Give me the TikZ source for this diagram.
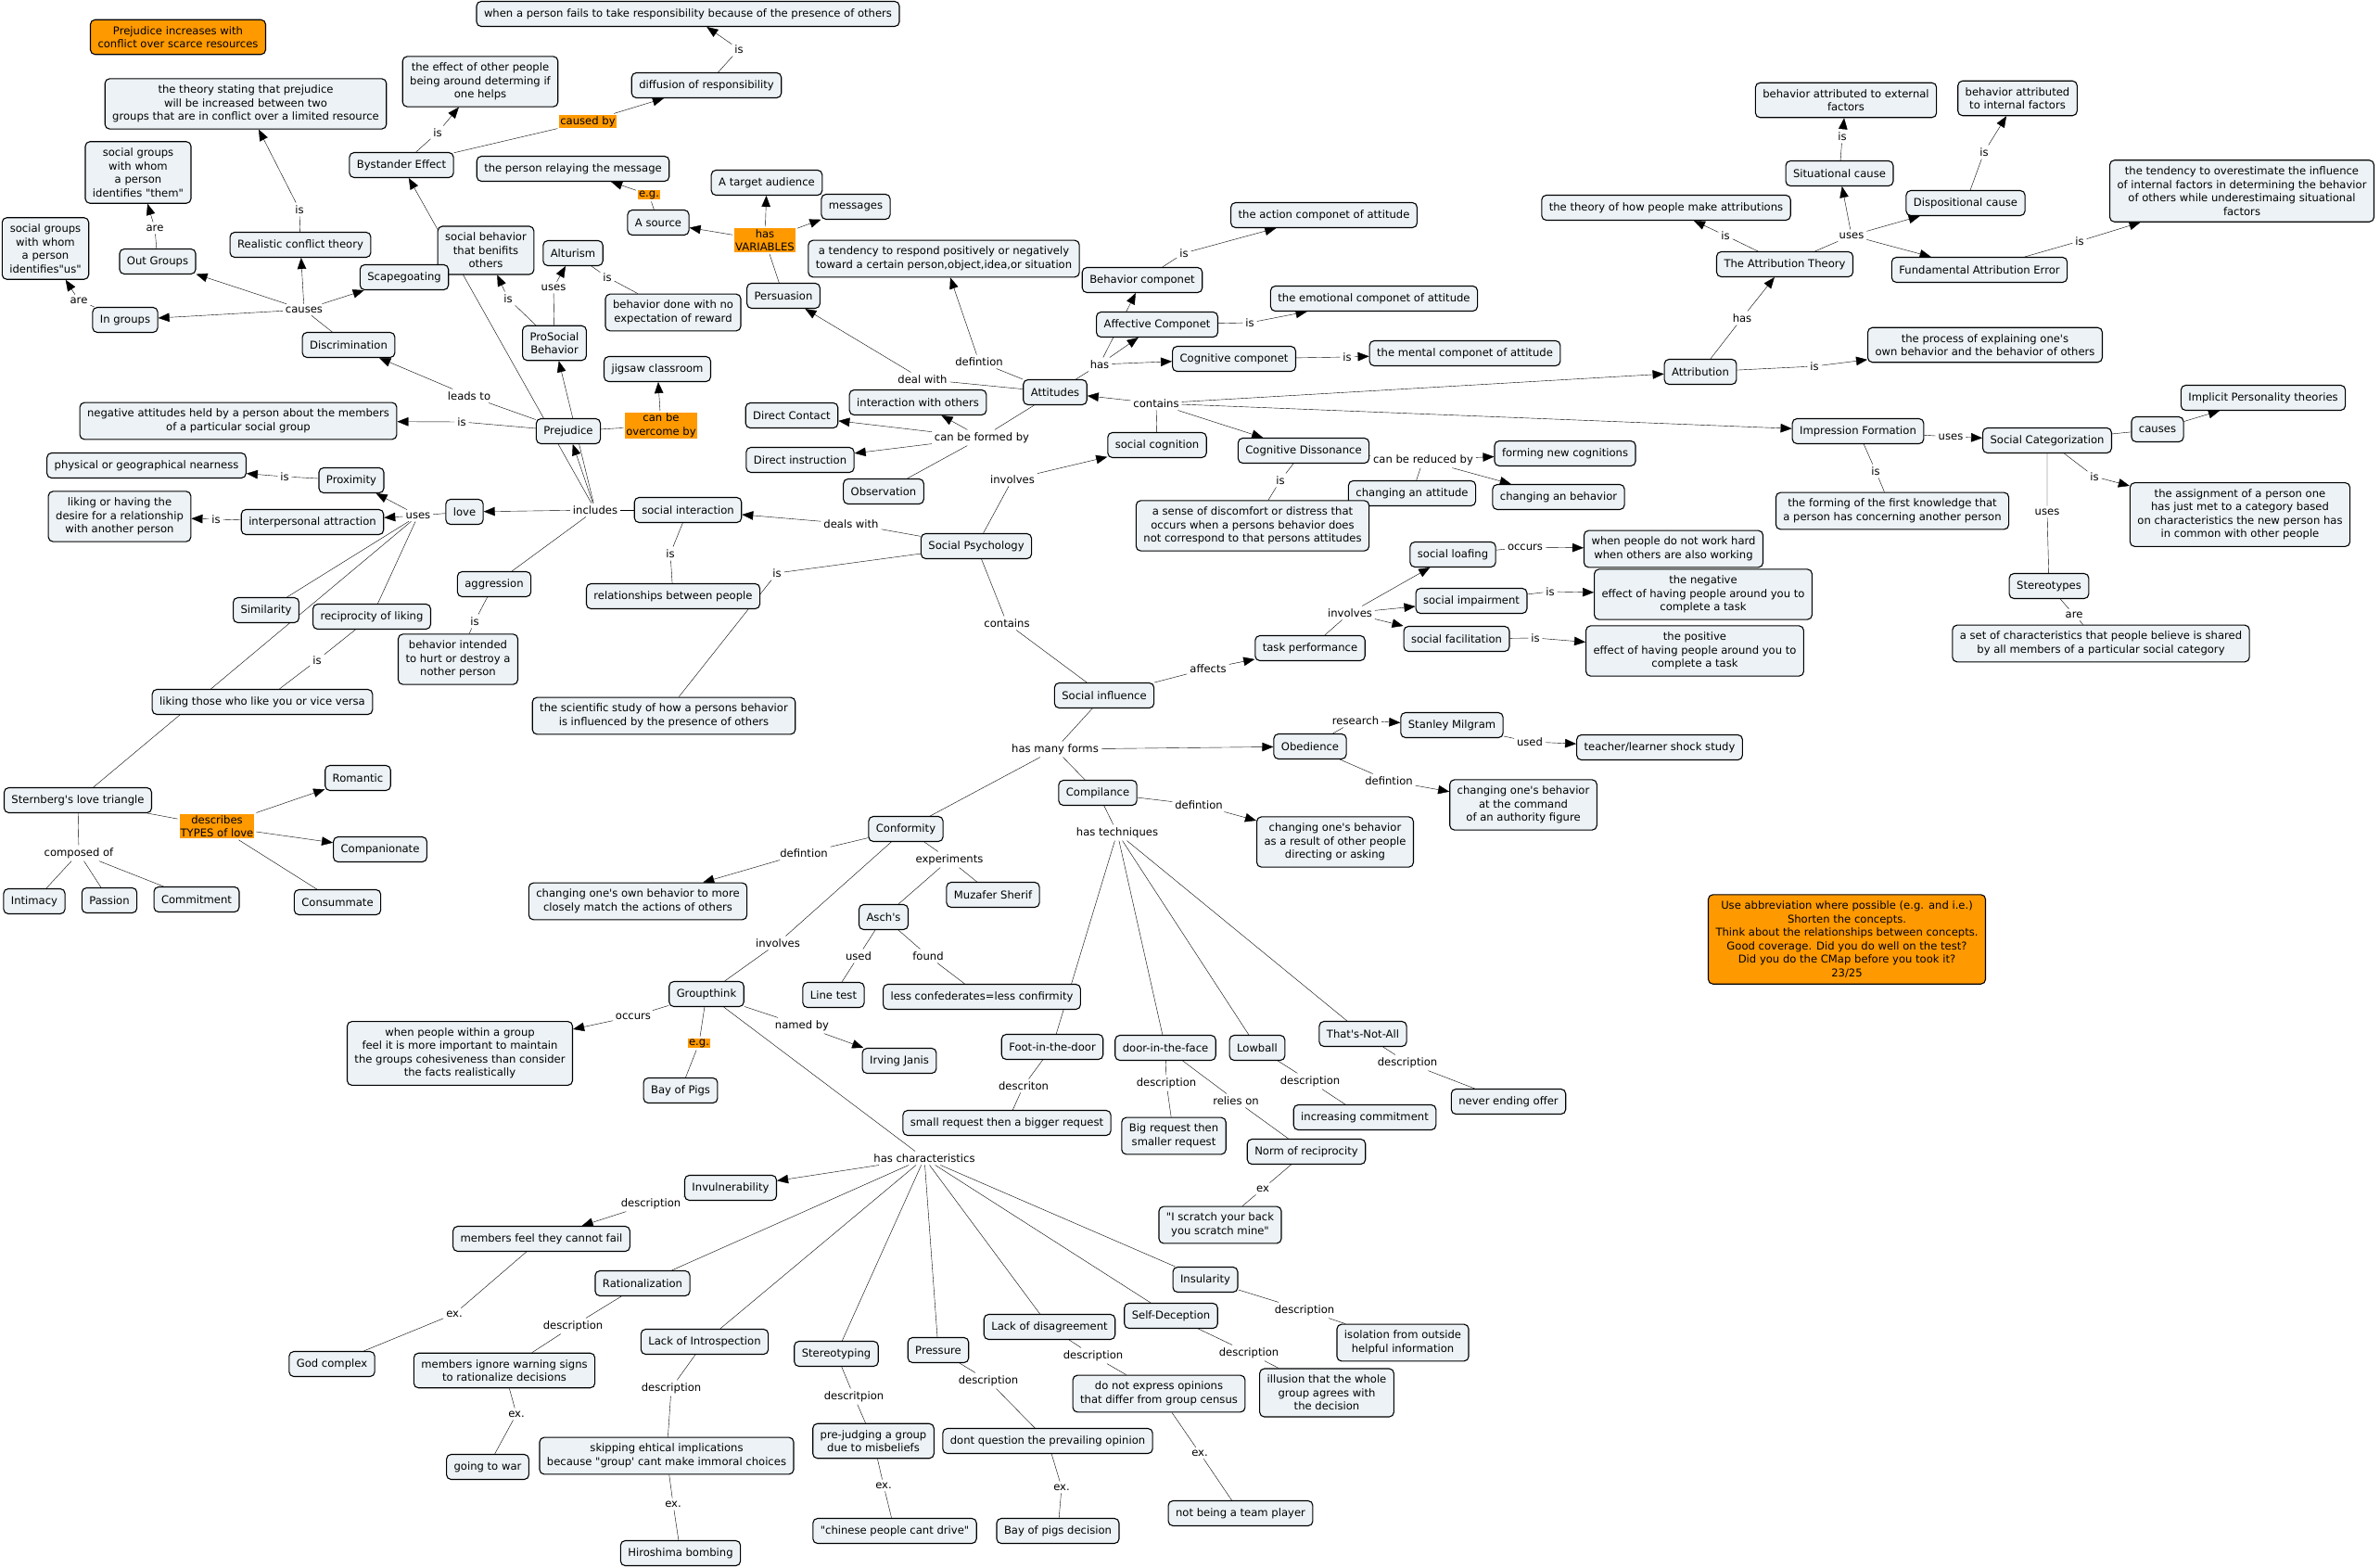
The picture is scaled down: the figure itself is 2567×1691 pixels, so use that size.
\documentclass[tikz,border=0pt]{standalone}
\usepackage{fontspec}
\setmainfont{DejaVu Sans}[Ligatures=TeXOff]
\usetikzlibrary{arrows.meta}

\definecolor{conceptfill}{RGB}{236,242,245}
\definecolor{notefill}{RGB}{255,153,0}
\newcommand{\mapfont}{\fontsize{11.6}{14.5}\selectfont}

\pgfdeclarelayer{background}
\pgfsetlayers{background,main}

\tikzset{
  concept/.style={draw, rounded corners=5pt, fill=conceptfill, line width=1.1pt,
    align=center, inner xsep=8pt, inner ysep=7pt, minimum height=27pt, font=\mapfont},
  note/.style={concept, fill=notefill},
  phrase/.style={fill=white, inner sep=1pt, outer sep=2pt, align=center, font=\mapfont},
  hiphrase/.style={fill=notefill, inner sep=1pt, outer sep=2pt, align=center, font=\mapfont},
  arr/.style={-{Triangle[length=12pt,width=9.5pt]}},
}

\begin{document}
\begin{tikzpicture}[x=1pt, y=-1pt, line width=1.1pt]
\useasboundingbox (0,0) rectangle (2567,1691);

% notes
\node[note] (note1) at (192,40) {Prejudice increases with\\conflict over scarce resources};
\node[note] (note2) at (1992,1013) {Use abbreviation where possible (e.g. and i.e.)\\Shorten the concepts.\\Think about the relationships between concepts.\\Good coverage. Did you do well on the test?\\Did you do the CMap before you took it?\\23/25};

% social interaction side
\node[concept] (whenfail) at (742,15) {when a person fails to take responsibility because of the presence of others};
\node[concept] (effect) at (518,88) {the effect of other people\\being around determing if\\one helps};
\node[concept] (rctdef) at (265,112) {the theory stating that prejudice\\will be increased between two\\groups that are in conflict over a limited resource};
\node[concept] (them) at (149,186) {social groups\\with whom\\a person\\identifies "them"};
\node[concept] (us) at (49,268) {social groups\\with whom\\a person\\identifies"us"};
\node[concept] (outg) at (170,282) {Out Groups};
\node[concept] (rct) at (324,264) {Realistic conflict theory};
\node[concept] (bystander) at (433,178) {Bystander Effect};
\node[concept] (relay) at (618,182) {the person relaying the message};
\node[concept] (sbehav) at (524,270) {social behavior\\that benifits\\others};
\node[concept] (scape) at (436,299) {Scapegoating};
\node[concept] (altru) at (618,273) {Alturism};
\node[concept] (prosoc) at (598,370) {ProSocial\\Behavior};
\node[concept] (ing) at (135,345) {In groups};
\node[concept] (discr) at (376,372) {Discrimination};
\node[concept] (prej) at (613,465) {Prejudice};
\node[concept] (negatt) at (257,454) {negative attitudes held by a person about the members\\of a particular social group};
\node[concept] (nearness) at (158,502) {physical or geographical nearness};
\node[concept] (prox) at (379,518) {Proximity};
\node[concept] (love) at (501,552) {love};
\node[concept] (likehave) at (129,557) {liking or having the\\desire for a relationship\\with another person};
\node[concept] (interp) at (337,563) {interpersonal attraction};
\node[concept] (diffus) at (762,92) {diffusion of responsibility};
\node[concept] (target) at (827,197) {A target audience};
\node[concept] (messages) at (923,223) {messages};
\node[concept] (source) at (710,240) {A source};
\node[concept] (tendency) at (1018,279) {a tendency to respond positively or negatively\\toward a certain person,object,idea,or situation};
\node[concept] (persu) at (845,319) {Persuasion};
\node[concept] (noreward) at (726,337) {behavior done with no\\expectation of reward};
\node[concept] (jigsaw) at (709,398) {jigsaw classroom};
\node[concept] (socint) at (742,550) {social interaction};
\node[concept] (relpeople) at (726,643) {relationships between people};
\node[concept] (simil) at (287,658) {Similarity};
\node[concept] (recip) at (401,665) {reciprocity of liking};
\node[concept] (aggr) at (533,630) {aggression};
\node[concept] (hurt) at (494,711) {behavior intended\\to hurt or destroy a\\nother person};
\node[concept] (likeback) at (283,757) {liking those who like you or vice versa};
\node[concept] (stern) at (84,863) {Sternberg's love triangle};
\node[concept] (romantic) at (386,839) {Romantic};
\node[concept] (compan) at (410,916) {Companionate};
\node[concept] (intimacy) at (37,972) {Intimacy};
\node[concept] (passion) at (118,971) {Passion};
\node[concept] (commit) at (212,970) {Commitment};
\node[concept] (consum) at (364,973) {Consummate};

% attitudes and cognition
\node[concept] (behcomp) at (1232,302) {Behavior componet};
\node[concept] (affcomp) at (1248,350) {Affective Componet};
\node[concept] (cogcomp) at (1331,387) {Cognitive componet};
\node[concept] (attit) at (1138,423) {Attitudes};
\node[concept] (interact) at (990,434) {interaction with others};
\node[concept] (dcontact) at (854,448) {Direct Contact};
\node[concept] (dinstr) at (863,496) {Direct instruction};
\node[concept] (observ) at (953,530) {Observation};
\node[concept] (soccog) at (1248,480) {social cognition};
\node[concept] (action) at (1428,232) {the action componet of attitude};
\node[concept] (emotion) at (1482,322) {the emotional componet of attitude};
\node[concept] (mental) at (1580,381) {the mental componet of attitude};
\node[concept] (attrib) at (1834,401) {Attribution};
\node[concept] (atheory) at (1925,285) {The Attribution Theory};
\node[concept] (howtheory) at (1797,224) {the theory of how people make attributions};
\node[concept] (cogdis) at (1406,486) {Cognitive Dissonance};
\node[concept] (newcog) at (1688,489) {forming new cognitions};
\node[concept] (chatt) at (1523,532) {changing an attitude};
\node[concept] (chbeh) at (1681,536) {changing an behavior};
\node[concept] (discomf) at (1351,567) {a sense of discomfort or distress that\\occurs when a persons behavior does\\not correspond to that persons attitudes};
\node[concept] (external) at (1991,108) {behavior attributed to external\\factors};
\node[concept] (situ) at (1984,187) {Situational cause};
\node[concept] (internal) at (2176,106) {behavior attributed\\to internal factors};
\node[concept] (dispo) at (2120,219) {Dispositional cause};
\node[concept] (fae) at (2135,291) {Fundamental Attribution Error};
\node[concept] (overest) at (2418,206) {the tendency to overestimate the influence\\of internal factors in determining the behavior\\of others while underestimaing situational\\factors};
\node[concept] (explain) at (2141,372) {the process of explaining one's\\own behavior and the behavior of others};
\node[concept] (implicit) at (2441,429) {Implicit Personality theories};
\node[concept] (impform) at (2004,465) {Impression Formation};
\node[concept] (soccat) at (2208,475) {Social Categorization};
\node[concept] (causesbox) at (2327,463) {causes};
\node[concept] (assign) at (2416,555) {the assignment of a person one\\has just met to a category based\\on characteristics the new person has\\in common with other people};
\node[concept] (firstknow) at (2041,551) {the forming of the first knowledge that\\a person has concerning another person};
\node[concept] (stereo) at (2210,632) {Stereotypes};
\node[concept] (setchar) at (2266,694) {a set of characteristics that people believe is shared\\by all members of a particular social category};

% social influence
\node[concept] (socpsy) at (1053,589) {Social Psychology};
\node[concept] (scistudy) at (716,772) {the scientific study of how a persons behavior\\is influenced by the presence of others};
\node[concept] (socinf) at (1191,750) {Social influence};
\node[concept] (loaf) at (1567,598) {social loafing};
\node[concept] (nothard) at (1805,592) {when people do not work hard\\when others are also working};
\node[concept] (impair) at (1587,648) {social impairment};
\node[concept] (negeff) at (1837,641) {the negative\\effect of having people around you to\\complete a task};
\node[concept] (taskp) at (1413,699) {task performance};
\node[concept] (facil) at (1571,689) {social facilitation};
\node[concept] (poseff) at (1828,702) {the positive\\effect of having people around you to\\complete a task};
\node[concept] (milgram) at (1566,782) {Stanley Milgram};
\node[concept] (obed) at (1413,805) {Obedience};
\node[concept] (shock) at (1790,806) {teacher/learner shock study};
\node[concept] (command) at (1643,868) {changing one's behavior\\at the command\\of an authority figure};
\node[concept] (asking) at (1440,908) {changing one's behavior\\as a result of other people\\directing or asking};
\node[concept] (compl) at (1184,855) {Compilance};
\node[concept] (conf) at (977,894) {Conformity};
\node[concept] (closely) at (688,972) {changing one's own behavior to more\\closely match the actions of others};
\node[concept] (sherif) at (1071,965) {Muzafer Sherif};
\node[concept] (asch) at (953,989) {Asch's};
\node[concept] (gthink) at (762,1072) {Groupthink};
\node[concept] (linetest) at (899,1073) {Line test};
\node[concept] (lessconf) at (1059,1075) {less confederates=less confirmity};
\node[concept] (foot) at (1135,1129) {Foot-in-the-door};
\node[concept] (dface) at (1257,1130) {door-in-the-face};
\node[concept] (lowball) at (1356,1130) {Lowball};
\node[concept] (notall) at (1470,1115) {That's-Not-All};
\node[concept] (cohesive) at (496,1136) {when people within a group\\feel it is more important to maintain\\the groups cohesiveness than consider\\the facts realistically};
\node[concept] (bayofpigs) at (734,1176) {Bay of Pigs};
\node[concept] (janis) at (970,1144) {Irving Janis};
\node[concept] (smallreq) at (1086,1211) {small request then a bigger request};
\node[concept] (bigreq) at (1266,1225) {Big request then\\smaller request};
\node[concept] (increasing) at (1472,1205) {increasing commitment};
\node[concept] (neverend) at (1627,1188) {never ending offer};
\node[concept] (norm) at (1409,1242) {Norm of reciprocity};
\node[concept] (scratch) at (1316,1321) {"I scratch your back\\you scratch mine"};
\node[concept] (invul) at (788,1281) {Invulnerability};
\node[concept] (cantfail) at (584,1336) {members feel they cannot fail};
\node[concept] (godcx) at (358,1471) {God complex};
\node[concept] (ration) at (693,1384) {Rationalization};
\node[concept] (ignore) at (544,1478) {members ignore warning signs\\to rationalize decisions};
\node[concept] (war) at (526,1582) {going to war};
\node[concept] (introsp) at (760,1447) {Lack of Introspection};
\node[concept] (skipping) at (719,1570) {skipping ehtical implications\\because "group' cant make immoral choices};
\node[concept] (hiroshima) at (734,1675) {Hiroshima bombing};
\node[concept] (stereotyp) at (902,1460) {Stereotyping};
\node[concept] (prejudging) at (942,1554) {pre-judging a group\\due to misbeliefs};
\node[concept] (chinese) at (965,1651) {"chinese people cant drive"};
\node[concept] (pressure) at (1012,1456) {Pressure};
\node[concept] (dontq) at (1130,1554) {dont question the prevailing opinion};
\node[concept] (baydec) at (1141,1651) {Bay of pigs decision};
\node[concept] (lackdis) at (1132,1431) {Lack of disagreement};
\node[concept] (notexpr) at (1250,1503) {do not express opinions\\that differ from group census};
\node[concept] (teamplayer) at (1338,1632) {not being a team player};
\node[concept] (selfdec) at (1263,1419) {Self-Deception};
\node[concept] (illusion) at (1431,1502) {illusion that the whole\\group agrees with\\the decision};
\node[concept] (insul) at (1300,1380) {Insularity};
\node[concept] (isolation) at (1513,1448) {isolation from outside\\helpful information};

% linking phrases
\node[phrase] (kDiffIs) at (797,53) {is};
\node[phrase] (kByIs) at (472,143) {is};
\node[hiphrase] (kCausedBy) at (634,131) {caused by};
\node[phrase] (kRctIs) at (323,226) {is};
\node[phrase] (kOutAre) at (167,246) {are};
\node[phrase] (kInAre) at (85,324) {are};
\node[phrase] (kCauses) at (328,334) {causes};
\node[phrase] (kProUses) at (597,310) {uses};
\node[phrase] (kProIs) at (548,322) {is};
\node[phrase] (kLeads) at (506,427) {leads to};
\node[phrase] (kPrejIs) at (498,455) {is};
\node[phrase] (kProxIs) at (307,514) {is};
\node[phrase] (kInterpIs) at (233,560) {is};
\node[phrase] (kLoveUses) at (451,556) {uses};
\node[phrase] (kIncludes) at (642,550) {includes};
\node[hiphrase] (kEgA) at (700,210) {e.g.};
\node[hiphrase] (kVars) at (825,259) {has\\VARIABLES};
\node[phrase] (kAltIs) at (655,299) {is};
\node[hiphrase] (kOvercome) at (713,459) {can be\\overcome by};
\node[phrase] (kDefAtt) at (1056,390) {defintion};
\node[phrase] (kAttHas) at (1186,393) {has};
\node[phrase] (kDealWith) at (995,409) {deal with};
\node[phrase] (kContains) at (1247,435) {contains};
\node[phrase] (kFormed) at (1059,472) {can be formed by};
\node[phrase] (kInvolves) at (1092,517) {involves};
\node[phrase] (kDeals) at (918,565) {deals with};
\node[phrase] (kBehIs) at (1277,273) {is};
\node[phrase] (kAffIs) at (1348,348) {is};
\node[phrase] (kCogIs) at (1453,385) {is};
\node[phrase] (kAttrHas) at (1879,343) {has};
\node[phrase] (kTheoryIs) at (1861,254) {is};
\node[phrase] (kReduced) at (1535,496) {can be reduced by};
\node[phrase] (kDisIs) at (1381,518) {is};
\node[phrase] (kSituIs) at (1987,147) {is};
\node[phrase] (kDispoIs) at (2140,164) {is};
\node[phrase] (kUses) at (1997,254) {uses};
\node[phrase] (kFaeIs) at (2243,260) {is};
\node[phrase] (kAttrIs) at (1957,395) {is};
\node[phrase] (kImpUses) at (2104,471) {uses};
\node[phrase] (kCatIs) at (2259,514) {is};
\node[phrase] (kImpIs) at (2023,508) {is};
\node[phrase] (kCatUses) at (2208,552) {uses};
\node[phrase] (kStereoAre) at (2237,663) {are};
\node[phrase] (kOccurs) at (1645,590) {occurs};
\node[phrase] (kImpairIs) at (1672,638) {is};
\node[phrase] (kTaskInv) at (1456,661) {involves};
\node[phrase] (kAffects) at (1303,721) {affects};
\node[phrase] (kFacilIs) at (1656,688) {is};
\node[phrase] (kResearch) at (1462,777) {research};
\node[phrase] (kUsed) at (1650,800) {used};
\node[phrase] (kObedDef) at (1498,842) {defintion};
\node[phrase] (kComplDef) at (1293,868) {defintion};
\node[phrase] (kSpIs) at (838,618) {is};
\node[phrase] (kSiIs) at (723,597) {is};
\node[phrase] (kSpContains) at (1086,672) {contains};
\node[phrase] (kForms) at (1138,808) {has many forms};
\node[phrase] (kConfDef) at (867,920) {defintion};
\node[phrase] (kExper) at (1024,927) {experiments};
\node[phrase] (kTech) at (1205,898) {has techniques};
\node[phrase] (kConfInv) at (839,1017) {involves};
\node[phrase] (kAschUsed) at (926,1031) {used};
\node[phrase] (kFound) at (1001,1031) {found};
\node[phrase] (kGtOccurs) at (683,1096) {occurs};
\node[phrase] (kNamed) at (865,1106) {named by};
\node[hiphrase] (kEgB) at (754,1125) {e.g.};
\node[phrase] (kAggrIs) at (512,670) {is};
\node[phrase] (kRecipIs) at (342,712) {is};
\node[hiphrase] (kDescribes) at (234,891) {describes\\TYPES of love};
\node[phrase] (kComposed) at (85,920) {composed of};
\node[phrase] (kFootDesc) at (1104,1171) {descriton};
\node[phrase] (kFaceDesc) at (1258,1168) {description};
\node[phrase] (kRelies) at (1333,1187) {relies on};
\node[phrase] (kLowDesc) at (1413,1166) {description};
\node[phrase] (kNotallDesc) at (1518,1146) {description};
\node[phrase] (kNormEx) at (1362,1282) {ex};
\node[phrase] (kCharac) at (997,1249) {has characteristics};
\node[phrase] (kInvDesc) at (702,1298) {description};
\node[phrase] (kCantEx) at (490,1417) {ex.};
\node[phrase] (kRatDesc) at (618,1430) {description};
\node[phrase] (kWarEx) at (557,1525) {ex.};
\node[phrase] (kIntroDesc) at (724,1497) {description};
\node[phrase] (kHiroEx) at (726,1622) {ex.};
\node[phrase] (kStereoDesc) at (921,1506) {descritpion};
\node[phrase] (kChinEx) at (953,1602) {ex.};
\node[phrase] (kPressDesc) at (1066,1489) {description};
\node[phrase] (kBayEx) at (1145,1604) {ex.};
\node[phrase] (kDisDesc) at (1179,1462) {description};
\node[phrase] (kTeamEx) at (1294,1567) {ex.};
\node[phrase] (kSelfDesc) at (1347,1459) {description};
\node[phrase] (kInsDesc) at (1407,1413) {description};

\begin{pgfonlayer}{background}
% social psychology
\draw (socpsy) -- (kSpIs) (kSpIs) -- (scistudy);
\draw[arr] (socpsy) -- (kDeals) (kDeals) -- (socint);
\draw[arr] (socpsy) -- (kInvolves) (kInvolves) -- (soccog);
\draw (socpsy) -- (kSpContains) (kSpContains) -- (socinf);
\draw (socint) -- (kSiIs) (kSiIs) -- (relpeople);
\draw (socint) -- (kIncludes);
\foreach \t in {love,prej,prosoc,bystander} \draw[arr] (kIncludes) -- (\t);
\draw (kIncludes) -- (aggr);
% prejudice
\draw[arr] (prej) -- (kPrejIs) (kPrejIs) -- (negatt);
\draw[arr] (prej) -- (kLeads) (kLeads) -- (discr);
\draw[arr] (prej) -- (kOvercome) (kOvercome) -- (jigsaw);
\draw (discr) -- (kCauses);
\foreach \t in {ing,outg,rct,scape} \draw[arr] (kCauses) -- (\t);
\draw[arr] (ing) -- (kInAre) (kInAre) -- (us);
\draw[arr] (outg) -- (kOutAre) (kOutAre) -- (them);
\draw[arr] (rct) -- (kRctIs) (kRctIs) -- (rctdef);
\draw[arr] (bystander) -- (kByIs) (kByIs) -- (effect);
\draw[arr] (bystander) -- (kCausedBy) (kCausedBy) -- (diffus);
\draw[arr] (diffus) -- (kDiffIs) (kDiffIs) -- (whenfail);
\draw[arr] (prosoc) -- (kProIs) (kProIs) -- (sbehav);
\draw[arr] (prosoc) -- (kProUses) (kProUses) -- (altru);
\draw (altru) -- (kAltIs) (kAltIs) -- (noreward);
% love
\draw (love) -- (kLoveUses);
\foreach \t in {prox,interp} \draw[arr] (kLoveUses) -- (\t);
\foreach \t in {simil,recip,stern} \draw (kLoveUses) -- (\t);
\draw[arr] (prox) -- (kProxIs) (kProxIs) -- (nearness);
\draw[arr] (interp) -- (kInterpIs) (kInterpIs) -- (likehave);
\draw (recip) -- (kRecipIs) (kRecipIs) -- (likeback);
\draw (aggr) -- (kAggrIs) (kAggrIs) -- (hurt);
\draw (stern) -- (kDescribes);
\foreach \t in {romantic,compan} \draw[arr] (kDescribes) -- (\t);
\draw (kDescribes) -- (consum);
\draw (stern) -- (kComposed);
\foreach \t in {intimacy,passion,commit} \draw (kComposed) -- (\t);
% persuasion and attitudes
\draw (persu) -- (kVars);
\foreach \t in {source,target,messages} \draw[arr] (kVars) -- (\t);
\draw[arr] (source) -- (kEgA) (kEgA) -- (relay);
\draw[arr] (attit) -- (kDealWith) (kDealWith) -- (persu);
\draw[arr] (attit) -- (kDefAtt) (kDefAtt) -- (tendency);
\draw (attit) -- (kAttHas);
\foreach \t in {behcomp,affcomp,cogcomp} \draw[arr] (kAttHas) -- (\t);
\draw[arr] (behcomp) -- (kBehIs) (kBehIs) -- (action);
\draw[arr] (affcomp) -- (kAffIs) (kAffIs) -- (emotion);
\draw[arr] (cogcomp) -- (kCogIs) (kCogIs) -- (mental);
\draw (attit) -- (kFormed);
\foreach \t in {interact,dcontact,dinstr} \draw[arr] (kFormed) -- (\t);
\draw (kFormed) -- (observ);
% social cognition
\draw (soccog) -- (kContains);
\foreach \t in {attit,attrib,impform,cogdis} \draw[arr] (kContains) -- (\t);
\draw (cogdis) -- (kDisIs) (kDisIs) -- (discomf);
\draw (cogdis) -- (kReduced);
\foreach \t in {newcog,chbeh} \draw[arr] (kReduced) -- (\t);
\draw (kReduced) -- (chatt);
\draw[arr] (attrib) -- (kAttrIs) (kAttrIs) -- (explain);
\draw[arr] (attrib) -- (kAttrHas) (kAttrHas) -- (atheory);
\draw[arr] (atheory) -- (kTheoryIs) (kTheoryIs) -- (howtheory);
\draw (atheory) -- (kUses);
\foreach \t in {situ,dispo,fae} \draw[arr] (kUses) -- (\t);
\draw[arr] (situ) -- (kSituIs) (kSituIs) -- (external);
\draw[arr] (dispo) -- (kDispoIs) (kDispoIs) -- (internal);
\draw[arr] (fae) -- (kFaeIs) (kFaeIs) -- (overest);
\draw[arr] (impform) -- (kImpUses) (kImpUses) -- (soccat);
\draw (impform) -- (kImpIs) (kImpIs) -- (firstknow);
\draw[arr] (soccat) -- (causesbox) (causesbox) -- (implicit);
\draw[arr] (soccat) -- (kCatIs) (kCatIs) -- (assign);
\draw (soccat) -- (kCatUses) (kCatUses) -- (stereo);
\draw (stereo) -- (kStereoAre) (kStereoAre) -- (setchar);
% social influence
\draw[arr] (socinf) -- (kAffects) (kAffects) -- (taskp);
\draw (taskp) -- (kTaskInv);
\foreach \t in {loaf,impair,facil} \draw[arr] (kTaskInv) -- (\t);
\draw[arr] (loaf) -- (kOccurs) (kOccurs) -- (nothard);
\draw[arr] (impair) -- (kImpairIs) (kImpairIs) -- (negeff);
\draw[arr] (facil) -- (kFacilIs) (kFacilIs) -- (poseff);
\draw[arr] (socinf) -- (kForms) (kForms) -- (obed);
\foreach \t in {compl,conf} \draw (kForms) -- (\t);
\draw[arr] (obed) -- (kResearch) (kResearch) -- (milgram);
\draw[arr] (milgram) -- (kUsed) (kUsed) -- (shock);
\draw[arr] (obed) -- (kObedDef) (kObedDef) -- (command);
\draw[arr] (compl) -- (kComplDef) (kComplDef) -- (asking);
\draw (compl) -- (kTech);
\foreach \t in {foot,dface,lowball,notall} \draw (kTech) -- (\t);
\draw (foot) -- (kFootDesc) (kFootDesc) -- (smallreq);
\draw (dface) -- (kFaceDesc) (kFaceDesc) -- (bigreq);
\draw (dface) -- (kRelies) (kRelies) -- (norm);
\draw (lowball) -- (kLowDesc) (kLowDesc) -- (increasing);
\draw (notall) -- (kNotallDesc) (kNotallDesc) -- (neverend);
\draw (norm) -- (kNormEx) (kNormEx) -- (scratch);
% conformity and groupthink
\draw[arr] (conf) -- (kConfDef) (kConfDef) -- (closely);
\draw (conf) -- (kExper);
\foreach \t in {asch,sherif} \draw (kExper) -- (\t);
\draw (asch) -- (kAschUsed) (kAschUsed) -- (linetest);
\draw (asch) -- (kFound) (kFound) -- (lessconf);
\draw (conf) -- (kConfInv) (kConfInv) -- (gthink);
\draw[arr] (gthink) -- (kGtOccurs) (kGtOccurs) -- (cohesive);
\draw (gthink) -- (kEgB) (kEgB) -- (bayofpigs);
\draw[arr] (gthink) -- (kNamed) (kNamed) -- (janis);
\draw (gthink) -- (kCharac);
\draw[arr] (kCharac) -- (invul);
\foreach \t in {ration,introsp,stereotyp,pressure,lackdis,selfdec,insul} \draw (kCharac) -- (\t);
\draw[arr] (invul) -- (kInvDesc) (kInvDesc) -- (cantfail);
\draw (cantfail) -- (kCantEx) (kCantEx) -- (godcx);
\draw (ration) -- (kRatDesc) (kRatDesc) -- (ignore);
\draw (ignore) -- (kWarEx) (kWarEx) -- (war);
\draw (introsp) -- (kIntroDesc) (kIntroDesc) -- (skipping);
\draw (skipping) -- (kHiroEx) (kHiroEx) -- (hiroshima);
\draw (stereotyp) -- (kStereoDesc) (kStereoDesc) -- (prejudging);
\draw (prejudging) -- (kChinEx) (kChinEx) -- (chinese);
\draw (pressure) -- (kPressDesc) (kPressDesc) -- (dontq);
\draw (dontq) -- (kBayEx) (kBayEx) -- (baydec);
\draw (lackdis) -- (kDisDesc) (kDisDesc) -- (notexpr);
\draw (notexpr) -- (kTeamEx) (kTeamEx) -- (teamplayer);
\draw (selfdec) -- (kSelfDesc) (kSelfDesc) -- (illusion);
\draw (insul) -- (kInsDesc) (kInsDesc) -- (isolation);
\end{pgfonlayer}
\end{tikzpicture}
\end{document}
